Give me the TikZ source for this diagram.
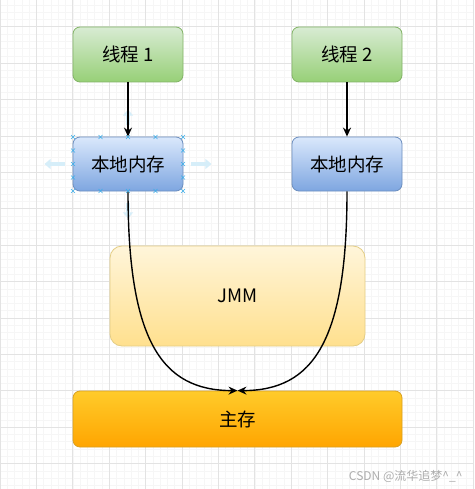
\documentclass[tikz,border=0pt]{standalone}
\usepackage{fontspec}
\setmainfont{Noto Sans CJK SC}
\usepackage{xcolor}
\usetikzlibrary{arrows.meta}

\definecolor{gridminor}{HTML}{F6F6F6}
\definecolor{gridmajor}{HTML}{E3E3E3}
\definecolor{threadtop}{HTML}{D8EBD3}
\definecolor{threadbot}{HTML}{97D077}
\definecolor{threadline}{HTML}{82B366}
\definecolor{localtop}{HTML}{DAE8FC}
\definecolor{localbot}{HTML}{7EA6E0}
\definecolor{localline}{HTML}{6C8EBF}
\definecolor{jmmtop}{HTML}{FFF5DA}
\definecolor{jmmbot}{HTML}{FFE08E}
\definecolor{jmmline}{HTML}{E3CD85}
\definecolor{maintop}{HTML}{FFCB2A}
\definecolor{mainbot}{HTML}{FFA500}
\definecolor{mainline}{HTML}{D9A021}
\definecolor{handle}{HTML}{3DAEE9}
\definecolor{hint}{HTML}{D6EEF9}

\begin{document}
\begin{tikzpicture}[x=1pt, y=-1pt,
		box/.style={draw, rounded corners=7pt, inner sep=0pt, line width=0.8pt,
			minimum width=110pt, minimum height=55pt, font=\fontsize{18.5}{21}\selectfont},
		thread/.style={box, draw=threadline, top color=threadtop, bottom color=threadbot},
		local/.style={box, draw=localline, top color=localtop, bottom color=localbot},
		link/.style={-{Stealth[length=9pt, width=8pt, inset=3pt]}, line width=1.4pt},
		hintarrow/.style={-{Triangle[length=6pt, width=10pt]}, line width=3.5pt, hint}]
		\fill[white] (0,0) rectangle (474,489);
		\useasboundingbox (0,0) rectangle (474,489);
		
		% grid
		\newcommand{\gm}{7.28}
		\newcommand{\gM}{36.4}
		\foreach \i in {0,...,65}
			\draw[gridminor, line width=0.5pt] ({\i*\gm},0) -- ({\i*\gm},489);
		\foreach \j in {1,...,68}
			\draw[gridminor, line width=0.5pt] (0,{\j*\gm-9.7}) -- (474,{\j*\gm-9.7});
		\foreach \i in {0,...,13}
			\draw[gridmajor, line width=0.7pt] ({\i*\gM},0) -- ({\i*\gM},489);
		\foreach \j in {1,...,14}
			\draw[gridmajor, line width=0.7pt] (0,{\j*\gM-9.7}) -- (474,{\j*\gM-9.7});
		
		\node[box, draw=jmmline, top color=jmmtop, bottom color=jmmbot, rounded corners=12pt,
			minimum width=255pt, minimum height=100pt] (jmm) at (237.5,296) {JMM};
		\node[box, draw=mainline, top color=maintop, bottom color=mainbot,
			minimum width=329pt, minimum height=56pt] (main) at (237.5,419) {主存};
		
		\node[thread] (t1) at (128,54.5) {线程 1};
		\node[thread] (t2) at (347,54.5) {线程 2};
		\node[local, minimum height=54pt] (m1) at (128,164) {本地内存};
		\node[local, minimum height=54pt] (m2) at (347,164) {本地内存};
		
		% selection hints
		\draw[hintarrow] (m1.west) ++(-8,0) -- ++(-20,0);
		\draw[hintarrow] (m1.east) ++(8,0) -- ++(20,0);
		\draw[hintarrow] (m1.north) ++(0,-12) -- ++(0,-15);
		\draw[hintarrow] (m1.south) ++(0,12) -- ++(0,15);
		
		\draw[link] (t1) -- (m1);
		\draw[link] (t2) -- (m2);
		\draw[link] (m1.south) .. controls +(0,149) and +(-76,0) .. (main.north);
		\draw[link] (m2.south) .. controls +(0,149) and +(76,0) .. (main.north);
		
		% handles on the selected box
		\foreach \p in {(73,137),(100.5,137),(128,137),(155.5,137),(183,137),
			(73,191),(100.5,191),(128,191),(155.5,191),(183,191),
			(73,150.5),(73,164),(73,177.5),(183,150.5),(183,164),(183,177.5)}
			\draw[handle, line width=0.6pt] \p ++(-2,-2) -- ++(4,4) ++(0,-4) -- ++(-4,4);
		
		\node[anchor=east, text=black!32, font=\fontsize{12}{14}\selectfont] (mark)
			at (466,476) {CSDN @流华追梦\textasciicircum\_\textasciicircum};
	\end{tikzpicture}
\end{document}
